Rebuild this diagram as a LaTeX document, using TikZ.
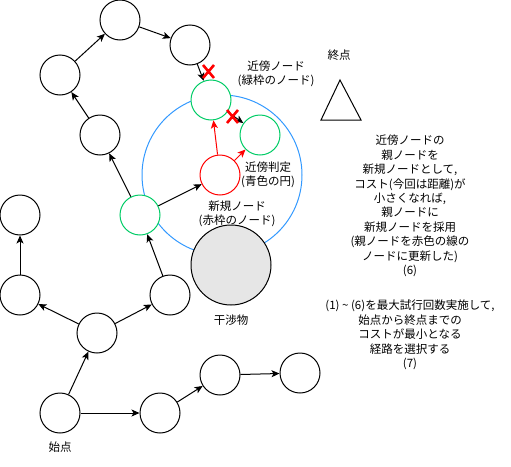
\documentclass[tikz,border=0pt]{standalone}
\usepackage{fontspec}
\setmainfont{Noto Sans CJK JP}
\usetikzlibrary{arrows.meta}
\definecolor{grn}{RGB}{0,204,102}
\definecolor{blu}{RGB}{51,153,255}
\definecolor{obsgray}{RGB}{230,230,230}
\begin{document}
\begin{tikzpicture}[x=1pt,y=-1pt,
  nd/.style={circle,draw,fill=white,minimum size=40pt,inner sep=0pt,line width=1pt},
  gnd/.style={nd,draw=grn},
  rnd/.style={nd,draw=red},
  arr/.style={-{Stealth[length=8pt,width=7pt,inset=2pt]},line width=1pt},
  xmark/.style={red,line width=2.6pt},
  lbl/.style={font=\fontsize{11.5}{14.4}\selectfont,align=center,inner sep=0pt}
]
\useasboundingbox (0,0) rectangle (511,466);
% neighbourhood circle
\node[circle,draw=blu,line width=1pt,minimum size=160pt,inner sep=0pt] (near) at (222,175) {};
% obstacle
\node[nd,fill=obsgray,minimum size=80pt] (obs) at (231,265) {};
% nodes
\node[nd] (S) at (60,413) {};
\node[nd] (A) at (160,413) {};
\node[nd] (B) at (220,375) {};
\node[nd] (C) at (300,373) {};
\node[nd] (D) at (97,333) {};
\node[nd] (E) at (20,295) {};
\node[nd] (F) at (20,215) {};
\node[nd] (G) at (170,295) {};
\node[gnd] (H) at (140,215) {};
\node[nd] (J) at (100,135) {};
\node[nd] (K) at (60,75) {};
\node[nd] (L) at (120,20) {};
\node[nd] (M) at (190,45) {};
\node[gnd] (N1) at (211,100) {};
\node[gnd] (N2) at (260,135) {};
\node[rnd] (R) at (220,175) {};
% edges
\draw[arr] (S) -- (A);
\draw[arr] (A) -- (B);
\draw[arr] (B) -- (C);
\draw[arr] (S) -- (D);
\draw[arr] (D) -- (E);
\draw[arr] (E) -- (F);
\draw[arr] (D) -- (G);
\draw[arr] (G) -- (H);
\draw[arr] (H) -- (J);
\draw[arr] (J) -- (K);
\draw[arr] (K) -- (L);
\draw[arr] (L) -- (M);
\draw[arr] (M) -- (N1);
\draw[arr] (N1) -- (N2);
\draw[arr] (H) -- (R);
\draw[arr,red] (R) -- (N1);
\draw[arr,red] (R) -- (N2);
% X marks
\draw[xmark] (203,65) -- (214,78) (214,65) -- (203,78);
\draw[xmark] (227,110) -- (238,123) (238,110) -- (227,123);
% goal triangle
\draw[line width=1pt] (340,80) -- (361,120) -- (321,120) -- cycle;
% labels
\node[lbl] (tS) at (60,447) {始点};
\node[lbl] (tObs) at (231,320) {干渉物};
\node[lbl] (tNew) at (237,214) {新規ノード\\(赤枠のノード)};
\node[lbl] (tJudge) at (268,175) {近傍判定\\(青色の円)};
\node[lbl] (tNear) at (276,74) {近傍ノード\\(緑枠のノード)};
\node[lbl] (tGoal) at (339,55) {終点};
\node[lbl] (tRule) at (410,206) {近傍ノードの\\親ノードを\\新規ノードとして,\\コスト(今回は距離)が\\小さくなれば,\\親ノードに\\新規ノードを採用\\(親ノードを赤色の線の\\ノードに更新した)\\(6)};
\node[lbl] (tLoop) at (410,335) {(1) \textasciitilde{} (6)を最大試行回数実施して,\\始点から終点までの\\コストが最小となる\\経路を選択する\\(7)};
\end{tikzpicture}
\end{document}
